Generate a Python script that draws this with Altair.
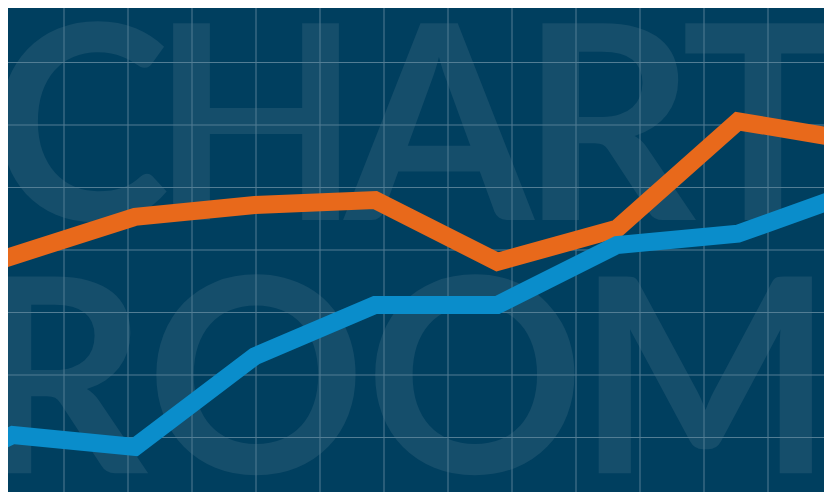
import altair as alt
import pandas as pd

# grid units: one column = 64px, one row = 62.5px of the artwork
n_cols = 13
n_rows = 8

# orange series (x in columns, y in rows from the bottom)
orange_x = [0.0, 2.11, 3.98, 5.86, 7.77, 9.64, 11.53, 13.0]
orange_y = [3.84, 4.53, 4.72, 4.80, 3.81, 4.34, 6.06, 5.81]

# blue series
blue_x = [0.0, 0.2, 2.11, 3.98, 5.86, 7.77, 9.64, 11.53, 13.0]
blue_y = [0.94, 1.04, 0.85, 2.30, 3.12, 3.12, 4.08, 4.26, 4.80]

# background lettering
letters = ["C", "H", "A", "R", "T", "R", "O", "O", "M"]
letter_x = [1.25, 4.0, 6.86, 9.5, 11.92, 0.94, 4.0, 7.42, 11.02]
letter_y = [4.48, 4.48, 4.48, 4.48, 4.48, 0.43, 0.43, 0.43, 0.43]

bg = "#003f5f"

lines = pd.concat([
    pd.DataFrame({"x": orange_x, "y": orange_y, "series": "orange", "order": range(len(orange_x))}),
    pd.DataFrame({"x": blue_x, "y": blue_y, "series": "blue", "order": range(len(blue_x))}),
])
text_df = pd.DataFrame({"letter": letters, "x": letter_x, "y": letter_y})
vgrid = pd.DataFrame({"x": list(range(n_cols + 1))})
hgrid = pd.DataFrame({"y": list(range(n_rows + 1))})

# the page keeps an 8px margin all round, so the view shows the inner part
xs = alt.Scale(domain=[8 / 64, 824 / 64], nice=False, zero=False)
ys = alt.Scale(domain=[8 / 62.5, 492 / 62.5], nice=False, zero=False)

text = alt.Chart(text_df).mark_text(
    font="Lato", fontWeight="bold", fontSize=272, color="#154e6b",
    align="center", baseline="alphabetic", clip=True,
).encode(
    x=alt.X("x:Q", scale=xs, axis=None),
    y=alt.Y("y:Q", scale=ys, axis=None),
    text="letter:N",
)

vrules = alt.Chart(vgrid).mark_rule(color="#527d94", strokeWidth=1, clip=True).encode(
    x=alt.X("x:Q", scale=xs, axis=None)
)
hrules = alt.Chart(hgrid).mark_rule(color="#527d94", strokeWidth=1, clip=True).encode(
    y=alt.Y("y:Q", scale=ys, axis=None)
)

line = alt.Chart(lines).mark_line(
    strokeWidth=18, strokeJoin="miter", strokeCap="butt", clip=True
).encode(
    x=alt.X("x:Q", scale=xs, axis=None),
    y=alt.Y("y:Q", scale=ys, axis=None),
    detail="series:N",
    order="order:Q",
    color=alt.Color("series:N", scale=alt.Scale(domain=["orange", "blue"], range=["#e8691b", "#0a8dcb"]), legend=None),
)

chart = alt.layer(text, vrules, hrules, line).properties(
    width=816, height=484, padding=0, background=bg
).configure_view(fill=bg, stroke=None)

chart.save("out.html", embed_options={"renderer": "svg", "actions": False})
